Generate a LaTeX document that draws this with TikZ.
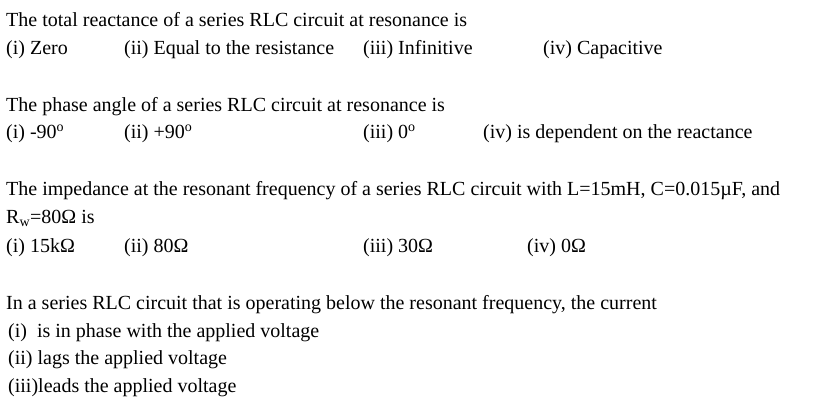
\documentclass[tikz,border=0pt]{standalone}
\usepackage{fontspec}
\setmainfont{Liberation Serif}
\begin{document}
\begin{tikzpicture}[x=1pt,y=-1pt,t/.style={anchor=base west,inner sep=0pt,font=\fontsize{20}{22}\selectfont}]
\useasboundingbox[fill=white] (0,0) rectangle (813,401);
\node[t] (a1) at (6,27) {The total reactance of a series RLC circuit at resonance is};
\node[t] (a2) at (6,55) {(i) Zero};
\node[t] (a3) at (124,55) {(ii) Equal to the resistance};
\node[t] (a4) at (363,55) {(iii) Infinitive};
\node[t] (a5) at (543,55) {(iv) Capacitive};
\node[t] (b1) at (6,111) {The phase angle of a series RLC circuit at resonance is};
\node[t] (b2) at (6,139) {(i) -90\textsuperscript{o}};
\node[t] (b3) at (124,139) {(ii) +90\textsuperscript{o}};
\node[t] (b4) at (363,139) {(iii) 0\textsuperscript{o}};
\node[t] (b5) at (483,139) {(iv) is dependent on the reactance};
\node[t] (c1) at (6,195) {The impedance at the resonant frequency of a series RLC circuit with L=15mH, C=0.015µF, and};
\node[t] (c2) at (6,223) {R\textsubscript{w}=80Ω is};
\node[t] (c3) at (6,252) {(i) 15kΩ};
\node[t] (c4) at (124,252) {(ii) 80Ω};
\node[t] (c5) at (363,252) {(iii) 30Ω};
\node[t] (c6) at (527,252) {(iv) 0Ω};
\node[t] (d1) at (6,309) {In a series RLC circuit that is operating below the resonant frequency, the current};
\node[t] (d2) at (8,337) {(i)\ \ is in phase with the applied voltage};
\node[t] (d3) at (8,364) {(ii) lags the applied voltage};
\node[t] (d4) at (8,392) {(iii)leads the applied voltage};
\end{tikzpicture}
\end{document}
